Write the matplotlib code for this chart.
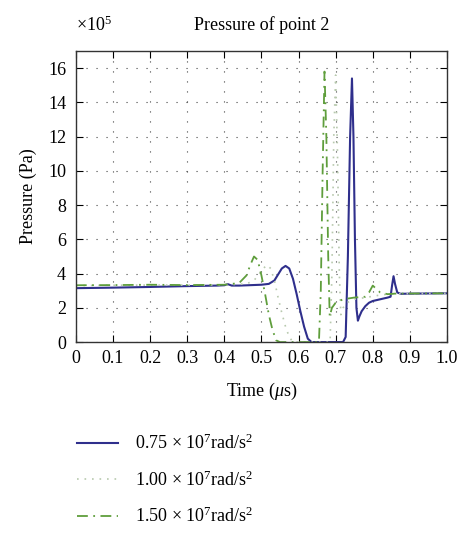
import numpy as np
import matplotlib
matplotlib.use('Agg')
import matplotlib.pyplot as plt

plt.rcParams['font.family'] = ['Liberation Serif', 'DejaVu Serif']
plt.rcParams['mathtext.fontset'] = 'custom'
plt.rcParams['mathtext.rm'] = 'Liberation Serif'
plt.rcParams['mathtext.it'] = 'Liberation Serif:italic'

# 0.75e7 rad/s^2
t_075 = [0, 0.1, 0.2, 0.3, 0.38, 0.40, 0.41, 0.42, 0.44, 0.5, 0.52, 0.535, 0.545,
         0.555, 0.565, 0.575, 0.585, 0.595, 0.605, 0.615, 0.625, 0.635, 0.72, 0.727,
         0.733, 0.739, 0.744, 0.748, 0.752, 0.756, 0.760, 0.764, 0.77, 0.78, 0.79,
         0.80, 0.82, 0.84, 0.848, 0.852, 0.856, 0.86, 0.866, 0.875, 0.9, 1.0]
p_075 = [3.15, 3.18, 3.22, 3.27, 3.3, 3.32, 3.38, 3.3, 3.3, 3.35, 3.4, 3.6, 3.95,
         4.3, 4.45, 4.3, 3.7, 2.8, 1.8, 0.9, 0.2, 0.0, 0.0, 0.3,
         5.0, 12.0, 15.4, 12.0, 6.0, 2.0, 1.25, 1.5, 1.8, 2.1, 2.3,
         2.4, 2.5, 2.6, 2.65, 3.3, 3.85, 3.4, 2.9, 2.82, 2.83, 2.85]

# 1.00e7 rad/s^2
t_100 = [0, 0.1, 0.2, 0.3, 0.4, 0.46, 0.48, 0.495, 0.505, 0.515, 0.525, 0.535, 0.545,
         0.555, 0.565, 0.575, 0.585, 0.685, 0.690, 0.695, 0.700, 0.705, 0.710, 0.714,
         0.72, 0.73, 0.75, 0.78, 0.82, 0.85, 1.0]
p_100 = [3.3, 3.32, 3.33, 3.33, 3.34, 3.4, 3.6, 4.0, 4.3, 4.5, 4.3, 3.6, 2.6,
         1.7, 0.9, 0.3, 0.0, 0.0, 4.0, 12.0, 15.6, 11.0, 4.0, 1.6,
         2.0, 2.3, 2.5, 2.6, 2.75, 2.82, 2.85]

# 1.50e7 rad/s^2
t_150 = [0, 0.1, 0.2, 0.3, 0.4, 0.44, 0.46, 0.47, 0.48, 0.49, 0.50, 0.51, 0.52,
         0.53, 0.54, 0.55, 0.655, 0.660, 0.665, 0.670, 0.675, 0.680, 0.684, 0.69,
         0.70, 0.72, 0.75, 0.78, 0.79, 0.80, 0.81, 0.82, 0.84, 0.86, 1.0]
p_150 = [3.32, 3.33, 3.35, 3.33, 3.35, 3.45, 3.9, 4.5, 5.0, 4.8, 3.9, 2.8, 1.6,
         0.7, 0.1, 0.0, 0.0, 3.0, 10.0, 15.8, 12.0, 5.0, 1.5, 2.0,
         2.3, 2.5, 2.6, 2.65, 2.9, 3.3, 3.1, 2.9, 2.8, 2.83, 2.85]

labels = [r'0.75 $\times$ 10$^7$rad/s$^2$',
          r'1.00 $\times$ 10$^7$rad/s$^2$',
          r'1.50 $\times$ 10$^7$rad/s$^2$']

fig = plt.figure(figsize=(4.74, 5.43), dpi=100)
ax = fig.add_axes([0.160, 0.370, 0.783, 0.536])

l1, = ax.plot(t_075, p_075, color='#2f2f8c', lw=1.5, ls='-')
l2, = ax.plot(t_100, p_100, color='#b8c9ae', lw=1.2, ls=(0, (1, 3.5)))
l3, = ax.plot(t_150, p_150, color='#5f9e3c', lw=1.3, ls=(0, (6, 3, 1, 3)))

ax.set_xlim(0, 1.0)
ax.set_ylim(0, 17)
ax.set_xticks(np.arange(0, 1.01, 0.1))
ax.set_xticklabels(['0'] + [f'{v:.1f}' for v in np.arange(0.1, 1.01, 0.1)])
ax.set_yticks(np.arange(0, 17, 2))
ax.tick_params(direction='in', top=True, right=True, length=5, labelsize=13)
ax.tick_params(axis='y', pad=7)
ax.tick_params(axis='x', pad=6)
ax.grid(True, color='#444444', ls=(0, (1, 8)), lw=0.8)
for s in ax.spines.values():
    s.set_linewidth(1.0)
    s.set_color('#333333')

ax.set_title('Pressure of point 2', fontsize=13, pad=15)
ax.text(0.0, 1.055, r'$\times$10$^5$', transform=ax.transAxes, fontsize=13,
        ha='left', va='bottom')
ax.set_xlabel(r'Time ($\mu$s)', fontsize=13, labelpad=10)
ax.set_ylabel('Pressure (Pa)', fontsize=13, labelpad=8)

fig.legend([l1, l2, l3], labels, loc='upper left', bbox_to_anchor=(0.128, 0.231),
           frameon=False, fontsize=13, handlelength=2.3, handletextpad=0.9,
           labelspacing=0.95)

fig.savefig('out.png', dpi=100)
